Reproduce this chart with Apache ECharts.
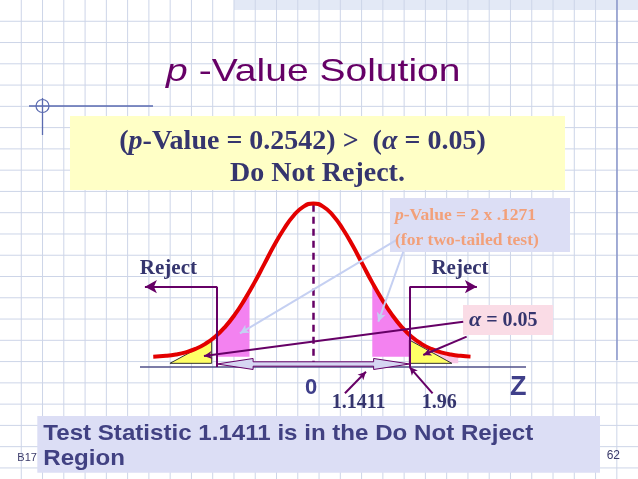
<!DOCTYPE html>
<html><head><meta charset="utf-8">
<script src="https://cdn.jsdelivr.net/npm/echarts@6/dist/echarts.min.js"></script>
<style>html,body{margin:0;padding:0;background:#fff}#c{width:638px;height:479px}</style>
</head><body><div id="c"></div>
<script>
// ---------------- data ----------------
const curveZ = [-3.26,-3.0,-2.8,-2.6,-2.4,-2.2,-2.0,-1.8,-1.6,-1.4,-1.2,-1.0,-0.8,-0.6,-0.4,-0.2,0,0.2,0.4,0.6,0.8,1.0,1.2,1.4,1.6,1.8,2.0,2.2,2.4,2.6,2.8,3.0,3.2];
const curveDensity = [0.002,0.0044,0.0079,0.0136,0.0224,0.0355,0.054,0.079,0.111,0.150,0.194,0.242,0.290,0.333,0.368,0.391,0.399,0.391,0.368,0.333,0.290,0.242,0.194,0.150,0.111,0.079,0.054,0.0355,0.0224,0.0136,0.0079,0.0044,0.0024];
const criticalValues = [-1.96, 1.96];
const testStatistic = 1.1411;
const pShadeLeftZ = [-1.96,-1.8,-1.6,-1.4,-1.3];
const pShadeLeftTop = [0.058,0.079,0.111,0.150,0.171];
const pShadeRightZ = [1.2,1.4,1.6,1.8,1.96];
const pShadeRightTop = [0.194,0.150,0.111,0.079,0.058];
const tailRightZ = [1.96,2.2,2.4,2.6,2.8,2.95];
const tailRightTop = [0.058,0.0355,0.0224,0.0136,0.0079,0.005];
const tickLabels = ['0','Z'];
const critLabels = ['1.1411','1.96'];

// ---------------- layout helpers ----------------
const NAVY = '#35356e';
const PURPLE = '#660066';
const shadeBase = 0.002, triBase = -0.015, axisLevel = -0.0246, arrowLevel = -0.0167;

const chart = echarts.init(document.getElementById('c'), null, {renderer:'canvas'});

function polyFromTop(zs, tops, base) {
  const pts = zs.map((z,i)=>[z, tops[i]]);
  pts.push([zs[zs.length-1], base]);
  pts.push([zs[0], base]);
  return pts;
}
const polys = [
  {pts: polyFromTop(pShadeLeftZ, pShadeLeftTop, shadeBase), fill:'#f382f0', stroke:null},
  {pts: polyFromTop(pShadeRightZ, pShadeRightTop, shadeBase), fill:'#f382f0', stroke:null},
  {pts: polyFromTop(tailRightZ, tailRightTop, triBase), fill:'#f8c6e6', stroke:null},
  {pts: [[-2.92, triBase],[-2.07, 0.0435],[-2.07, triBase]], fill:'#ffff66', stroke:'#333333'},
  {pts: [[1.955, 0.0454],[1.955, triBase],[2.82, triBase]], fill:'#ffff66', stroke:'#333333'}
];

function segSeries(color, width, type, segs, z) {
  return {
    type:'line', data:[[0,0]], showSymbol:false, lineStyle:{width:0, opacity:0}, z, silent:true,
    markLine:{
      silent:true, animation:false, symbol:['none','none'], label:{show:false},
      emphasis:{disabled:true}, lineStyle:{color, width, type}, z,
      data: segs.map(s => [
        {coord:s.from, symbol: s.arrowStart ? 'arrow' : 'none', symbolSize: s.size || [10,12], itemStyle:{color}},
        {coord:s.to, symbol: s.arrowEnd ? 'arrow' : 'none', symbolSize: s.size || [10,12], itemStyle:{color}}
      ])
    }
  };
}

// ---------------- background graphic ----------------
const els = [];
const step = 21.27;
els.push({type:'rect', shape:{x:0,y:0,width:638,height:479}, style:{fill:'#ffffff'}, z:-20, silent:true});
els.push({type:'rect', shape:{x:234,y:0,width:404,height:10}, style:{fill:'#e3e9f6'}, z:-15, silent:true});
for (let k=1; k*step<638; k++) els.push({type:'line', shape:{x1:k*step,y1:0,x2:k*step,y2:479}, style:{stroke:'#cdd5e8', lineWidth:1}, z:-10, silent:true});
for (let k=1; k*step<479; k++) els.push({type:'line', shape:{x1:0,y1:k*step,x2:638,y2:k*step}, style:{stroke:'#cdd5e8', lineWidth:1}, z:-10, silent:true});
els.push({type:'line', shape:{x1:617,y1:0,x2:617,y2:360}, style:{stroke:'#7d8ac4', lineWidth:1.3}, z:-9, silent:true});
els.push({type:'line', shape:{x1:29,y1:106,x2:153,y2:106}, style:{stroke:'#5a6ab0', lineWidth:1.5}, z:-9, silent:true});
els.push({type:'line', shape:{x1:42.5,y1:98,x2:42.5,y2:135}, style:{stroke:'#5a6ab0', lineWidth:1.3}, z:-9, silent:true});
els.push({type:'circle', shape:{cx:42.5,cy:106,r:6.5}, style:{fill:null, stroke:'#5a6ab0', lineWidth:1.2}, z:-9, silent:true});
// boxes
els.push({type:'rect', shape:{x:70,y:116,width:495,height:74}, style:{fill:'#ffffc6'}, z:-5, silent:true});
els.push({type:'rect', shape:{x:390,y:198,width:180,height:54}, style:{fill:'#dcdef5'}, z:-5, silent:true});
els.push({type:'rect', shape:{x:463,y:305,width:90,height:30}, style:{fill:'#fadce6'}, z:-5, silent:true});
els.push({type:'rect', shape:{x:37.3,y:416,width:562.7,height:56.7}, style:{fill:'#dcdef5'}, z:-5, silent:true});

function txt(x, y, text, rich, opts) {
  return Object.assign({type:'text', x, y, z:100, silent:true,
    style:Object.assign({text, rich, align:'left', verticalAlign:'middle'}, opts.style || {})}, opts.el || {});
}
const sans = '"Liberation Sans", Arial, sans-serif';
const serif = '"Liberation Serif", "Times New Roman", serif';
// title
els.push(txt(313.3, 72, '{i|p}{n| -Value Solution}', {
  i:{fontFamily:sans, fontSize:32, fontStyle:'italic', fill:PURPLE},
  n:{fontFamily:sans, fontSize:32, fill:PURPLE}
}, {style:{align:'center'}, el:{scaleX:1.22, originX:0, originY:0}}));
// yellow box text
const sb = {fontFamily:serif, fontSize:28, fontWeight:'bold', fill:NAVY};
const si = Object.assign({}, sb, {fontStyle:'italic'});
els.push(txt(119.3, 141.5, '{n|(}{i|p}{n|-Value = 0.2542) >  (}{i|α}{n| = 0.05)}', {n:sb, i:si}, {}));
els.push(txt(230, 173.5, '{n|Do Not Reject.}', {n:sb}, {}));
// p-value callout
const ob = {fontFamily:serif, fontSize:17.5, fontWeight:'bold', fill:'#f2a07a'};
const oi = Object.assign({}, ob, {fontStyle:'italic'});
els.push(txt(395, 215.5, '{i|p}{n|-Value = 2 x .1271}', {n:ob, i:oi}, {}));
els.push(txt(395, 240.5, '{n|(for two-tailed test)}', {n:ob}, {}));
// alpha label
const ab = {fontFamily:serif, fontSize:20, fontWeight:'bold', fill:NAVY};
const ai = Object.assign({}, ab, {fontStyle:'italic', fontSize:22});
els.push(txt(469, 320.5, '{i|α}{n| = 0.05}', {n:ab, i:ai}, {}));
// reject labels
const rb = {fontFamily:serif, fontSize:21, fontWeight:'bold', fill:NAVY};
els.push(txt(168.4, 268.6, '{n|Reject}', {n:rb}, {style:{align:'center'}}));
els.push(txt(460, 268.6, '{n|Reject}', {n:rb}, {style:{align:'center'}}));
// axis labels
els.push(txt(311, 388.2, '{n|' + tickLabels[0] + '}', {n:{fontFamily:sans, fontSize:22, fontWeight:'bold', fill:'#3f3f8a'}}, {style:{align:'center'}}));
els.push(txt(518.3, 387.6, '{n|' + tickLabels[1] + '}', {n:{fontFamily:sans, fontSize:27, fontWeight:'bold', fill:'#3f3f8a'}}, {style:{align:'center'}}));
const cb = {fontFamily:serif, fontSize:20, fontWeight:'bold', fill:NAVY};
els.push(txt(331.7, 402.4, '{n|' + critLabels[0] + '}', {n:cb}, {}));
els.push(txt(421.7, 402.4, '{n|' + critLabels[1] + '}', {n:cb}, {}));
// bottom statement
const bb = {fontFamily:sans, fontSize:22, fontWeight:'bold', fill:'#414182'};
els.push(txt(43.3, 434.2, '{n|Test Statistic 1.1411 is in the Do Not Reject}', {n:bb}, {el:{scaleX:1.096, originX:0, originY:0}}));
els.push(txt(43.3, 459.2, '{n|Region}', {n:bb}, {el:{scaleX:1.096, originX:0, originY:0}}));
els.push(txt(17.3, 458, '{n|B17}', {n:{fontFamily:sans, fontSize:11, fill:'#3a3a6a'}}, {}));
els.push(txt(606.7, 456, '{n|62}', {n:{fontFamily:sans, fontSize:12, fill:'#3a3a6a'}}, {}));

// ---------------- series ----------------
const series = [];
series.push({
  type:'custom', coordinateSystem:'cartesian2d', z:2, silent:true, clip:false,
  data: polys.map(p => p.pts[0]),
  renderItem: (params, api) => {
    const p = polys[params.dataIndex];
    return {type:'polygon', shape:{points: p.pts.map(q => api.coord(q))},
      style:{fill:p.fill, stroke:p.stroke || null, lineWidth: p.stroke ? 1 : 0}};
  }
});
series.push({
  type:'line', z:4, silent:true, smooth:true, showSymbol:false,
  data: curveZ.map((z,i)=>[z, curveDensity[i]]),
  lineStyle:{color:'#e30000', width:4}
});
// z axis line
series.push(segSeries('#50508a', 1.5, 'solid', [{from:[-3.53, axisLevel], to:[4.33, axisLevel]}], 5));
// mean line (dashed)
series.push(segSeries(PURPLE, 2.5, [7,5], [{from:[0, 0.396], to:[0, triBase]}], 3));
// reject arrows and pointers
series.push(segSeries(PURPLE, 2, 'solid', [
  {from:[criticalValues[0], 0.1835], to:[criticalValues[0], axisLevel]},
  {from:[criticalValues[0], 0.1835], to:[-3.43, 0.1835], arrowEnd:true, size:[10,12]},
  {from:[criticalValues[1], 0.1835], to:[criticalValues[1], axisLevel]},
  {from:[criticalValues[1], 0.1835], to:[3.33, 0.1835], arrowEnd:true, size:[10,12]},
  {from:[3.052, 0.0929], to:[-2.228, 0.004], arrowEnd:true, size:[6,8]},
  {from:[3.122, 0.054], to:[2.238, 0.0066], arrowEnd:true, size:[6,8]},
  {from:[0.643, -0.0926], to:[testStatistic - 0.07, -0.0366], arrowEnd:true, size:[6,8]},
  {from:[2.428, -0.0926], to:[criticalValues[1], -0.0246], arrowEnd:true, size:[6,8]}
], 6));
// p-value pointers
series.push(segSeries('#c5d0f2', 2, 'solid', [
  {from:[1.696, 0.3045], to:[-1.495, 0.0628], arrowEnd:true, size:[7,9]},
  {from:[1.831, 0.2741], to:[1.322, 0.0929], arrowEnd:true, size:[7,9]}
], 6));
// hollow double arrow between critical values
series.push({
  type:'custom', coordinateSystem:'cartesian2d', z:7, silent:true, clip:false,
  data:[[criticalValues[0], arrowLevel, criticalValues[1]]],
  renderItem: (params, api) => {
    const a = api.coord([api.value(0), api.value(1)]);
    const b = api.coord([api.value(2), api.value(1)]);
    const y = a[1], xl = a[0], xr = b[0], hl = 36, hh = 5.5, sh = 2.2;
    return {type:'polygon', shape:{points:[[xl,y],[xl+hl,y-hh],[xl+hl,y-sh],[xr-hl,y-sh],[xr-hl,y-hh],[xr,y],[xr-hl,y+hh],[xr-hl,y+sh],[xl+hl,y+sh],[xl+hl,y+hh]]},
      style:{fill:'#d6d6f2', stroke:PURPLE, lineWidth:1}};
  }
});

chart.setOption({
  animation:false,
  backgroundColor:'#ffffff',
  grid:{left:140, right:112, top:164.5, bottom:82.84},
  xAxis:{type:'value', min:-3.53, max:4.33, show:false},
  yAxis:{type:'value', min:-0.1, max:0.5, show:false},
  graphic:{elements:els},
  series
});
</script></body></html>
